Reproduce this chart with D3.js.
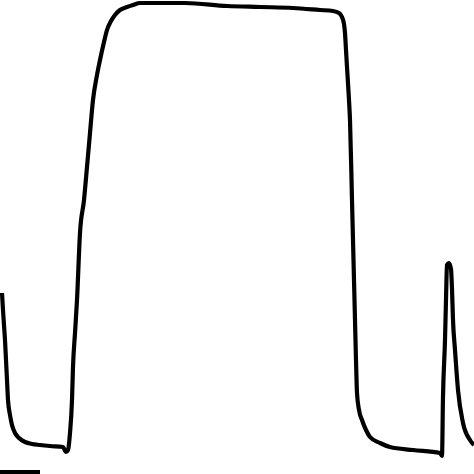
<!DOCTYPE html>
<html>
<head>
<meta charset="utf-8">
<script src="https://cdn.jsdelivr.net/npm/d3@7"></script>
<style>
  html, body { margin: 0; padding: 0; background: #fff; }
  svg { display: block; }
</style>
</head>
<body>
<svg id="chart" width="474" height="474"></svg>
<script>
// time (arbitrary units) and membrane potential (arbitrary units, height above bottom)
const time = [2, 3, 4, 5, 6, 7, 8, 10, 12, 15, 19, 25, 32, 40, 50, 63, 66, 68, 70, 72, 73, 75, 77, 80, 84, 87, 90, 93, 97, 100, 104, 107, 111, 115, 120, 127, 133, 140, 160, 185, 227, 260, 293, 320, 333, 339, 342, 344, 345, 346, 347, 349, 350, 352, 353, 354, 355, 356, 357, 359, 362, 366, 370, 380, 390, 413, 440, 442, 443, 445, 446, 447, 449, 451, 452, 453, 455, 458, 463, 470, 474];
const potential = [181, 164, 149, 134, 114, 94, 74, 59, 49, 41, 36, 32, 30, 29, 28, 27, 22, 24, 41, 74, 107, 141, 174, 241, 274, 307, 341, 374, 399, 414, 432, 444, 453, 459, 464, 467, 469, 471, 471, 471, 468, 467, 466, 464, 463, 461, 457, 450, 441, 424, 407, 374, 354, 274, 234, 194, 154, 114, 81, 64, 54, 44, 37, 31, 27, 24, 21, 18, 77, 134, 174, 209, 211, 205, 185, 154, 124, 84, 51, 34, 29];
const scaleBar = { t0: 0, t1: 40, v: 2 };

const W = 474, H = 474;
const svg = d3.select("#chart");
const x = d3.scaleLinear().domain([0, 474]).range([0, W]);
const y = d3.scaleLinear().domain([0, 474]).range([H, 0]);

const pts = time.map((t, i) => [t, potential[i]]);
const line = d3.line()
  .x(d => x(d[0]))
  .y(d => y(d[1]))
  .curve(d3.curveMonotoneX);

svg.append("rect").attr("width", W).attr("height", H).attr("fill", "#fff");

svg.append("path")
  .datum(pts)
  .attr("d", line)
  .attr("fill", "none")
  .attr("stroke", "#000")
  .attr("stroke-width", 4.2)
  .attr("stroke-linejoin", "round")
  .attr("stroke-linecap", "butt");

svg.append("line")
  .attr("x1", x(scaleBar.t0))
  .attr("x2", x(scaleBar.t1))
  .attr("y1", y(scaleBar.v))
  .attr("y2", y(scaleBar.v))
  .attr("stroke", "#000")
  .attr("stroke-width", 4);
</script>
</body>
</html>
